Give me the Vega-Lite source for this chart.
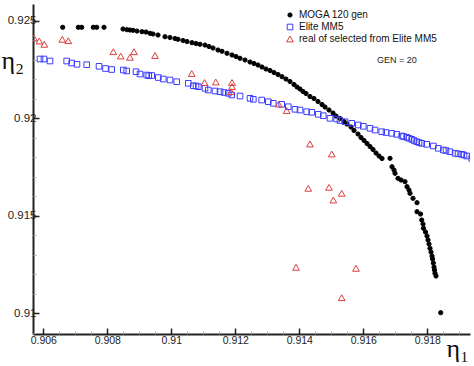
{
  "$schema": "https://vega.github.io/schema/vega-lite/v6.json",
  "width": 437,
  "height": 330,
  "autosize": {"type": "none"},
  "padding": {"left": 33, "top": 4, "right": 4, "bottom": 32},
  "background": "white",
  "resolve": {"axis": {"x": "independent", "y": "independent"}},
  "layer": [
    {
      "data": {"values": [
        {"series": "MOGA 120 gen", "eta1": 0.906606, "eta2": 0.924652},
        {"series": "MOGA 120 gen", "eta1": 0.907094, "eta2": 0.924652},
        {"series": "MOGA 120 gen", "eta1": 0.9072, "eta2": 0.924652},
        {"series": "MOGA 120 gen", "eta1": 0.907563, "eta2": 0.924652},
        {"series": "MOGA 120 gen", "eta1": 0.907669, "eta2": 0.924652},
        {"series": "MOGA 120 gen", "eta1": 0.907897, "eta2": 0.924652},
        {"series": "MOGA 120 gen", "eta1": 0.908491, "eta2": 0.924565},
        {"series": "MOGA 120 gen", "eta1": 0.908616, "eta2": 0.924529},
        {"series": "MOGA 120 gen", "eta1": 0.908709, "eta2": 0.924513},
        {"series": "MOGA 120 gen", "eta1": 0.908803, "eta2": 0.924498},
        {"series": "MOGA 120 gen", "eta1": 0.908928, "eta2": 0.924462},
        {"series": "MOGA 120 gen", "eta1": 0.909084, "eta2": 0.924426},
        {"series": "MOGA 120 gen", "eta1": 0.909209, "eta2": 0.924411},
        {"series": "MOGA 120 gen", "eta1": 0.909334, "eta2": 0.924344},
        {"series": "MOGA 120 gen", "eta1": 0.909428, "eta2": 0.924309},
        {"series": "MOGA 120 gen", "eta1": 0.909584, "eta2": 0.924257},
        {"series": "MOGA 120 gen", "eta1": 0.909803, "eta2": 0.92417},
        {"series": "MOGA 120 gen", "eta1": 0.909959, "eta2": 0.924129},
        {"series": "MOGA 120 gen", "eta1": 0.910116, "eta2": 0.924078},
        {"series": "MOGA 120 gen", "eta1": 0.910209, "eta2": 0.924037},
        {"series": "MOGA 120 gen", "eta1": 0.910366, "eta2": 0.923976},
        {"series": "MOGA 120 gen", "eta1": 0.910491, "eta2": 0.923924},
        {"series": "MOGA 120 gen", "eta1": 0.910647, "eta2": 0.923863},
        {"series": "MOGA 120 gen", "eta1": 0.910772, "eta2": 0.923822},
        {"series": "MOGA 120 gen", "eta1": 0.910897, "eta2": 0.923781},
        {"series": "MOGA 120 gen", "eta1": 0.911053, "eta2": 0.923745},
        {"series": "MOGA 120 gen", "eta1": 0.911178, "eta2": 0.923668},
        {"series": "MOGA 120 gen", "eta1": 0.911303, "eta2": 0.923591},
        {"series": "MOGA 120 gen", "eta1": 0.911459, "eta2": 0.923489},
        {"series": "MOGA 120 gen", "eta1": 0.911584, "eta2": 0.923422},
        {"series": "MOGA 120 gen", "eta1": 0.911741, "eta2": 0.92332},
        {"series": "MOGA 120 gen", "eta1": 0.911897, "eta2": 0.923233},
        {"series": "MOGA 120 gen", "eta1": 0.912022, "eta2": 0.923156},
        {"series": "MOGA 120 gen", "eta1": 0.912147, "eta2": 0.923064},
        {"series": "MOGA 120 gen", "eta1": 0.912303, "eta2": 0.922977},
        {"series": "MOGA 120 gen", "eta1": 0.912459, "eta2": 0.922874},
        {"series": "MOGA 120 gen", "eta1": 0.912584, "eta2": 0.922797},
        {"series": "MOGA 120 gen", "eta1": 0.912709, "eta2": 0.92272},
        {"series": "MOGA 120 gen", "eta1": 0.912834, "eta2": 0.922618},
        {"series": "MOGA 120 gen", "eta1": 0.912959, "eta2": 0.922516},
        {"series": "MOGA 120 gen", "eta1": 0.913084, "eta2": 0.922439},
        {"series": "MOGA 120 gen", "eta1": 0.913209, "eta2": 0.922336},
        {"series": "MOGA 120 gen", "eta1": 0.913334, "eta2": 0.922234},
        {"series": "MOGA 120 gen", "eta1": 0.913459, "eta2": 0.922121},
        {"series": "MOGA 120 gen", "eta1": 0.913584, "eta2": 0.922003},
        {"series": "MOGA 120 gen", "eta1": 0.913709, "eta2": 0.921875},
        {"series": "MOGA 120 gen", "eta1": 0.913834, "eta2": 0.921721},
        {"series": "MOGA 120 gen", "eta1": 0.913928, "eta2": 0.921593},
        {"series": "MOGA 120 gen", "eta1": 0.914022, "eta2": 0.921491},
        {"series": "MOGA 120 gen", "eta1": 0.914116, "eta2": 0.921363},
        {"series": "MOGA 120 gen", "eta1": 0.914209, "eta2": 0.92126},
        {"series": "MOGA 120 gen", "eta1": 0.914334, "eta2": 0.921107},
        {"series": "MOGA 120 gen", "eta1": 0.914459, "eta2": 0.921004},
        {"series": "MOGA 120 gen", "eta1": 0.914584, "eta2": 0.92085},
        {"series": "MOGA 120 gen", "eta1": 0.914709, "eta2": 0.920697},
        {"series": "MOGA 120 gen", "eta1": 0.914803, "eta2": 0.920569},
        {"series": "MOGA 120 gen", "eta1": 0.914928, "eta2": 0.920415},
        {"series": "MOGA 120 gen", "eta1": 0.915053, "eta2": 0.920261},
        {"series": "MOGA 120 gen", "eta1": 0.915147, "eta2": 0.920108},
        {"series": "MOGA 120 gen", "eta1": 0.915272, "eta2": 0.91998},
        {"series": "MOGA 120 gen", "eta1": 0.915397, "eta2": 0.919826},
        {"series": "MOGA 120 gen", "eta1": 0.915491, "eta2": 0.919698},
        {"series": "MOGA 120 gen", "eta1": 0.915616, "eta2": 0.919544},
        {"series": "MOGA 120 gen", "eta1": 0.915709, "eta2": 0.919365},
        {"series": "MOGA 120 gen", "eta1": 0.915834, "eta2": 0.919186},
        {"series": "MOGA 120 gen", "eta1": 0.915928, "eta2": 0.919006},
        {"series": "MOGA 120 gen", "eta1": 0.916022, "eta2": 0.918853},
        {"series": "MOGA 120 gen", "eta1": 0.916116, "eta2": 0.918699},
        {"series": "MOGA 120 gen", "eta1": 0.916209, "eta2": 0.918545},
        {"series": "MOGA 120 gen", "eta1": 0.916303, "eta2": 0.918392},
        {"series": "MOGA 120 gen", "eta1": 0.916397, "eta2": 0.918212},
        {"series": "MOGA 120 gen", "eta1": 0.916491, "eta2": 0.918058},
        {"series": "MOGA 120 gen", "eta1": 0.916584, "eta2": 0.91793},
        {"series": "MOGA 120 gen", "eta1": 0.916834, "eta2": 0.91794},
        {"series": "MOGA 120 gen", "eta1": 0.916897, "eta2": 0.91751},
        {"series": "MOGA 120 gen", "eta1": 0.916959, "eta2": 0.917341},
        {"series": "MOGA 120 gen", "eta1": 0.916991, "eta2": 0.917172},
        {"series": "MOGA 120 gen", "eta1": 0.917084, "eta2": 0.916916},
        {"series": "MOGA 120 gen", "eta1": 0.917178, "eta2": 0.916829},
        {"series": "MOGA 120 gen", "eta1": 0.917303, "eta2": 0.916742},
        {"series": "MOGA 120 gen", "eta1": 0.917366, "eta2": 0.916486},
        {"series": "MOGA 120 gen", "eta1": 0.917428, "eta2": 0.916317},
        {"series": "MOGA 120 gen", "eta1": 0.917459, "eta2": 0.916148},
        {"series": "MOGA 120 gen", "eta1": 0.917553, "eta2": 0.915891},
        {"series": "MOGA 120 gen", "eta1": 0.917678, "eta2": 0.915666},
        {"series": "MOGA 120 gen", "eta1": 0.917678, "eta2": 0.915205},
        {"series": "MOGA 120 gen", "eta1": 0.917788, "eta2": 0.915087},
        {"series": "MOGA 120 gen", "eta1": 0.917825, "eta2": 0.91478},
        {"series": "MOGA 120 gen", "eta1": 0.917866, "eta2": 0.914575},
        {"series": "MOGA 120 gen", "eta1": 0.917881, "eta2": 0.914355},
        {"series": "MOGA 120 gen", "eta1": 0.917944, "eta2": 0.914165},
        {"series": "MOGA 120 gen", "eta1": 0.917991, "eta2": 0.91396},
        {"series": "MOGA 120 gen", "eta1": 0.918022, "eta2": 0.913755},
        {"series": "MOGA 120 gen", "eta1": 0.918053, "eta2": 0.91355},
        {"series": "MOGA 120 gen", "eta1": 0.918084, "eta2": 0.91333},
        {"series": "MOGA 120 gen", "eta1": 0.918116, "eta2": 0.91314},
        {"series": "MOGA 120 gen", "eta1": 0.918147, "eta2": 0.912935},
        {"series": "MOGA 120 gen", "eta1": 0.918163, "eta2": 0.912782},
        {"series": "MOGA 120 gen", "eta1": 0.918188, "eta2": 0.912577},
        {"series": "MOGA 120 gen", "eta1": 0.918209, "eta2": 0.912372},
        {"series": "MOGA 120 gen", "eta1": 0.918225, "eta2": 0.912218},
        {"series": "MOGA 120 gen", "eta1": 0.91824, "eta2": 0.912049},
        {"series": "MOGA 120 gen", "eta1": 0.918272, "eta2": 0.911911},
        {"series": "MOGA 120 gen", "eta1": 0.918419, "eta2": 0.91003},
        {"series": "Elite MM5", "eta1": 0.905897, "eta2": 0.923028},
        {"series": "Elite MM5", "eta1": 0.906022, "eta2": 0.923028},
        {"series": "Elite MM5", "eta1": 0.906209, "eta2": 0.922925},
        {"series": "Elite MM5", "eta1": 0.906731, "eta2": 0.922925},
        {"series": "Elite MM5", "eta1": 0.906888, "eta2": 0.922823},
        {"series": "Elite MM5", "eta1": 0.907053, "eta2": 0.922756},
        {"series": "Elite MM5", "eta1": 0.907356, "eta2": 0.922736},
        {"series": "Elite MM5", "eta1": 0.907741, "eta2": 0.922654},
        {"series": "Elite MM5", "eta1": 0.907944, "eta2": 0.922541},
        {"series": "Elite MM5", "eta1": 0.908138, "eta2": 0.92249},
        {"series": "Elite MM5", "eta1": 0.9085, "eta2": 0.922464},
        {"series": "Elite MM5", "eta1": 0.908606, "eta2": 0.922413},
        {"series": "Elite MM5", "eta1": 0.908897, "eta2": 0.922377},
        {"series": "Elite MM5", "eta1": 0.909022, "eta2": 0.922259},
        {"series": "Elite MM5", "eta1": 0.909231, "eta2": 0.922208},
        {"series": "Elite MM5", "eta1": 0.909294, "eta2": 0.922172},
        {"series": "Elite MM5", "eta1": 0.909388, "eta2": 0.922183},
        {"series": "Elite MM5", "eta1": 0.909594, "eta2": 0.92208},
        {"series": "Elite MM5", "eta1": 0.90975, "eta2": 0.922003},
        {"series": "Elite MM5", "eta1": 0.909959, "eta2": 0.921952},
        {"series": "Elite MM5", "eta1": 0.910169, "eta2": 0.921865},
        {"series": "Elite MM5", "eta1": 0.910531, "eta2": 0.921783},
        {"series": "Elite MM5", "eta1": 0.910688, "eta2": 0.92166},
        {"series": "Elite MM5", "eta1": 0.910772, "eta2": 0.921645},
        {"series": "Elite MM5", "eta1": 0.910844, "eta2": 0.921609},
        {"series": "Elite MM5", "eta1": 0.911053, "eta2": 0.921527},
        {"series": "Elite MM5", "eta1": 0.911156, "eta2": 0.92144},
        {"series": "Elite MM5", "eta1": 0.911366, "eta2": 0.921388},
        {"series": "Elite MM5", "eta1": 0.911522, "eta2": 0.921353},
        {"series": "Elite MM5", "eta1": 0.911647, "eta2": 0.921312},
        {"series": "Elite MM5", "eta1": 0.911781, "eta2": 0.921271},
        {"series": "Elite MM5", "eta1": 0.911888, "eta2": 0.921184},
        {"series": "Elite MM5", "eta1": 0.912147, "eta2": 0.921132},
        {"series": "Elite MM5", "eta1": 0.912459, "eta2": 0.921014},
        {"series": "Elite MM5", "eta1": 0.912563, "eta2": 0.920963},
        {"series": "Elite MM5", "eta1": 0.912825, "eta2": 0.920927},
        {"series": "Elite MM5", "eta1": 0.913031, "eta2": 0.92084},
        {"series": "Elite MM5", "eta1": 0.913188, "eta2": 0.920758},
        {"series": "Elite MM5", "eta1": 0.91345, "eta2": 0.920707},
        {"series": "Elite MM5", "eta1": 0.913656, "eta2": 0.920584},
        {"series": "Elite MM5", "eta1": 0.913866, "eta2": 0.920451},
        {"series": "Elite MM5", "eta1": 0.914022, "eta2": 0.920415},
        {"series": "Elite MM5", "eta1": 0.914231, "eta2": 0.920328},
        {"series": "Elite MM5", "eta1": 0.914388, "eta2": 0.920297},
        {"series": "Elite MM5", "eta1": 0.914594, "eta2": 0.920195},
        {"series": "Elite MM5", "eta1": 0.91475, "eta2": 0.920123},
        {"series": "Elite MM5", "eta1": 0.914959, "eta2": 0.91999},
        {"series": "Elite MM5", "eta1": 0.915169, "eta2": 0.919954},
        {"series": "Elite MM5", "eta1": 0.915272, "eta2": 0.919877},
        {"series": "Elite MM5", "eta1": 0.915428, "eta2": 0.919816},
        {"series": "Elite MM5", "eta1": 0.915638, "eta2": 0.919734},
        {"series": "Elite MM5", "eta1": 0.915844, "eta2": 0.919647},
        {"series": "Elite MM5", "eta1": 0.916, "eta2": 0.91958},
        {"series": "Elite MM5", "eta1": 0.916209, "eta2": 0.919478},
        {"series": "Elite MM5", "eta1": 0.916366, "eta2": 0.91939},
        {"series": "Elite MM5", "eta1": 0.916575, "eta2": 0.919303},
        {"series": "Elite MM5", "eta1": 0.916709, "eta2": 0.919262},
        {"series": "Elite MM5", "eta1": 0.916888, "eta2": 0.919221},
        {"series": "Elite MM5", "eta1": 0.917044, "eta2": 0.91917},
        {"series": "Elite MM5", "eta1": 0.9172, "eta2": 0.919083},
        {"series": "Elite MM5", "eta1": 0.917256, "eta2": 0.919057},
        {"series": "Elite MM5", "eta1": 0.917356, "eta2": 0.919016},
        {"series": "Elite MM5", "eta1": 0.917428, "eta2": 0.918965},
        {"series": "Elite MM5", "eta1": 0.917513, "eta2": 0.918914},
        {"series": "Elite MM5", "eta1": 0.917584, "eta2": 0.918853},
        {"series": "Elite MM5", "eta1": 0.917669, "eta2": 0.918791},
        {"series": "Elite MM5", "eta1": 0.917741, "eta2": 0.91875},
        {"series": "Elite MM5", "eta1": 0.917825, "eta2": 0.918709},
        {"series": "Elite MM5", "eta1": 0.917981, "eta2": 0.918658},
        {"series": "Elite MM5", "eta1": 0.918188, "eta2": 0.918571},
        {"series": "Elite MM5", "eta1": 0.918344, "eta2": 0.918453},
        {"series": "Elite MM5", "eta1": 0.9185, "eta2": 0.918366},
        {"series": "Elite MM5", "eta1": 0.918584, "eta2": 0.91834},
        {"series": "Elite MM5", "eta1": 0.918709, "eta2": 0.918279},
        {"series": "Elite MM5", "eta1": 0.918866, "eta2": 0.918197},
        {"series": "Elite MM5", "eta1": 0.918959, "eta2": 0.918171},
        {"series": "Elite MM5", "eta1": 0.919075, "eta2": 0.918146},
        {"series": "Elite MM5", "eta1": 0.919147, "eta2": 0.91811},
        {"series": "Elite MM5", "eta1": 0.919231, "eta2": 0.918058},
        {"series": "Elite MM5", "eta1": 0.919388, "eta2": 0.91794},
        {"series": "real of selected from Elite MM5", "eta1": 0.905709, "eta2": 0.924104},
        {"series": "real of selected from Elite MM5", "eta1": 0.905875, "eta2": 0.92395},
        {"series": "real of selected from Elite MM5", "eta1": 0.906031, "eta2": 0.923781},
        {"series": "real of selected from Elite MM5", "eta1": 0.906594, "eta2": 0.924037},
        {"series": "real of selected from Elite MM5", "eta1": 0.906781, "eta2": 0.923965},
        {"series": "real of selected from Elite MM5", "eta1": 0.908188, "eta2": 0.923402},
        {"series": "real of selected from Elite MM5", "eta1": 0.908419, "eta2": 0.923181},
        {"series": "real of selected from Elite MM5", "eta1": 0.908709, "eta2": 0.923115},
        {"series": "real of selected from Elite MM5", "eta1": 0.908834, "eta2": 0.923402},
        {"series": "real of selected from Elite MM5", "eta1": 0.909491, "eta2": 0.923207},
        {"series": "real of selected from Elite MM5", "eta1": 0.910638, "eta2": 0.922285},
        {"series": "real of selected from Elite MM5", "eta1": 0.911038, "eta2": 0.921824},
        {"series": "real of selected from Elite MM5", "eta1": 0.911391, "eta2": 0.92185},
        {"series": "real of selected from Elite MM5", "eta1": 0.911897, "eta2": 0.921824},
        {"series": "real of selected from Elite MM5", "eta1": 0.911897, "eta2": 0.921619},
        {"series": "real of selected from Elite MM5", "eta1": 0.911866, "eta2": 0.921353},
        {"series": "real of selected from Elite MM5", "eta1": 0.913356, "eta2": 0.920722},
        {"series": "real of selected from Elite MM5", "eta1": 0.913606, "eta2": 0.920389},
        {"series": "real of selected from Elite MM5", "eta1": 0.914334, "eta2": 0.918673},
        {"series": "real of selected from Elite MM5", "eta1": 0.915013, "eta2": 0.918161},
        {"series": "real of selected from Elite MM5", "eta1": 0.914281, "eta2": 0.916404},
        {"series": "real of selected from Elite MM5", "eta1": 0.914928, "eta2": 0.916455},
        {"series": "real of selected from Elite MM5", "eta1": 0.915325, "eta2": 0.916148},
        {"series": "real of selected from Elite MM5", "eta1": 0.915063, "eta2": 0.915804},
        {"series": "real of selected from Elite MM5", "eta1": 0.913897, "eta2": 0.912357},
        {"series": "real of selected from Elite MM5", "eta1": 0.915772, "eta2": 0.912305},
        {"series": "real of selected from Elite MM5", "eta1": 0.915325, "eta2": 0.910799}
      ]},
      "mark": {"type": "point", "opacity": 1, "strokeWidth": 1, "clip": true},
      "encoding": {
        "x": {
          "field": "eta1", "type": "quantitative",
          "scale": {"domain": [0.905678, 0.919334], "nice": false, "zero": false},
          "axis": {
            "orient": "bottom",
            "values": [0.906, 0.908, 0.91, 0.912, 0.914, 0.916, 0.918],
            "format": "~g",
            "tickSize": -6,
            "tickColor": "#222222",
            "tickWidth": 1.5,
            "domainColor": "#222222",
            "domainWidth": 2,
            "grid": false,
            "labelFont": "Liberation Sans",
            "labelFontSize": 10.5,
            "labelColor": "#222222",
            "labelPadding": 7,
            "labelFlush": false,
            "labelOverlap": false,
            "title": "η₁",
            "titleFont": "Liberation Serif",
            "titleFontSize": 26,
            "titleFontWeight": "normal",
            "titleColor": "#111111",
            "titleAlign": "left",
            "titleBaseline": "alphabetic",
            "titleX": 413,
            "titleY": 22
          }
        },
        "y": {
          "field": "eta2", "type": "quantitative",
          "scale": {"domain": [0.90894, 0.925846], "nice": false, "zero": false},
          "axis": {
            "orient": "left",
            "values": [0.91, 0.915, 0.92, 0.925],
            "format": "~g",
            "tickSize": -6,
            "tickColor": "#222222",
            "tickWidth": 1.5,
            "domainColor": "#222222",
            "domainWidth": 2,
            "grid": false,
            "labelFont": "Liberation Sans",
            "labelFontSize": 11.5,
            "labelColor": "#222222",
            "labelPadding": 3,
            "labelFlush": false,
            "labelOverlap": false,
            "title": "η₂",
            "titleFont": "Liberation Serif",
            "titleFontSize": 26,
            "titleFontWeight": "normal",
            "titleColor": "#111111",
            "titleAngle": 0,
            "titleAlign": "left",
            "titleBaseline": "alphabetic",
            "titleX": -32,
            "titleY": 64
          }
        },
        "shape": {
          "field": "series", "type": "nominal",
          "scale": {"domain": ["MOGA 120 gen", "Elite MM5", "real of selected from Elite MM5"], "range": ["circle", "square", "triangle-up"]},
          "legend": {"title": null, "orient": "none", "legendX": 269, "legendY": 6, "symbolOffset": -17, "labelFontSize": 10, "labelLimit": 0, "labelExpr": "'\u00a0\u00a0\u00a0\u00a0\u00a0\u00a0' + datum.label"}
        },
        "stroke": {
          "field": "series", "type": "nominal",
          "scale": {"domain": ["MOGA 120 gen", "Elite MM5", "real of selected from Elite MM5"], "range": ["#000000", "#3c3cff", "#dd3c3c"]},
          "legend": {"title": null, "orient": "none", "legendX": 269, "legendY": 6, "symbolOffset": -17, "labelFontSize": 10, "labelLimit": 0, "labelExpr": "'\u00a0\u00a0\u00a0\u00a0\u00a0\u00a0' + datum.label"}
        },
        "fill": {
          "field": "series", "type": "nominal",
          "scale": {"domain": ["MOGA 120 gen", "Elite MM5", "real of selected from Elite MM5"], "range": ["#000000", "transparent", "transparent"]},
          "legend": {"title": null, "orient": "none", "legendX": 269, "legendY": 6, "symbolOffset": -17, "labelFontSize": 10, "labelLimit": 0, "labelExpr": "'\u00a0\u00a0\u00a0\u00a0\u00a0\u00a0' + datum.label"}
        },
        "size": {
          "field": "series", "type": "nominal",
          "scale": {"domain": ["MOGA 120 gen", "Elite MM5", "real of selected from Elite MM5"], "range": [18, 45, 50]},
          "legend": {"title": null, "orient": "none", "legendX": 269, "legendY": 6, "symbolOffset": -17, "labelFontSize": 10, "labelLimit": 0, "labelExpr": "'\u00a0\u00a0\u00a0\u00a0\u00a0\u00a0' + datum.label"}
        }
      }
    },
    {
      "data": {"values": [{"eta1": 0.916428, "eta2": 0.922977, "label": "GEN =  20"}]},
      "mark": {"type": "text", "align": "left", "baseline": "middle", "fontSize": 9, "font": "Liberation Sans", "color": "#222222"},
      "encoding": {
        "x": {
          "field": "eta1", "type": "quantitative",
          "scale": {"domain": [0.905678, 0.919334], "nice": false, "zero": false},
          "axis": {
            "orient": "bottom",
            "values": [0.9065, 0.907, 0.9075, 0.9085, 0.909, 0.9095, 0.9105, 0.911, 0.9115, 0.9125, 0.913, 0.9135, 0.9145, 0.915, 0.9155, 0.9165, 0.917, 0.9175, 0.9185, 0.919],
            "labels": false,
            "domain": false,
            "grid": false,
            "tickSize": -3,
            "tickColor": "#aaaaaa",
            "tickWidth": 1,
            "title": null
          }
        },
        "y": {
          "field": "eta2", "type": "quantitative",
          "scale": {"domain": [0.90894, 0.925846], "nice": false, "zero": false},
          "axis": {
            "orient": "left",
            "values": [0.909, 0.911, 0.912, 0.913, 0.914, 0.916, 0.917, 0.918, 0.919, 0.921, 0.922, 0.923, 0.924],
            "labels": false,
            "domain": false,
            "grid": false,
            "tickSize": -3,
            "tickColor": "#aaaaaa",
            "tickWidth": 1,
            "title": null
          }
        },
        "text": {"field": "label"}
      }
    }
  ],
  "config": {
    "view": {"stroke": null},
    "font": "Liberation Sans",
    "legend": {
      "padding": 0,
      "labelFont": "Liberation Sans",
      "labelColor": "#111111",
      "rowPadding": 2,
      "symbolStrokeWidth": 1
    }
  }
}
